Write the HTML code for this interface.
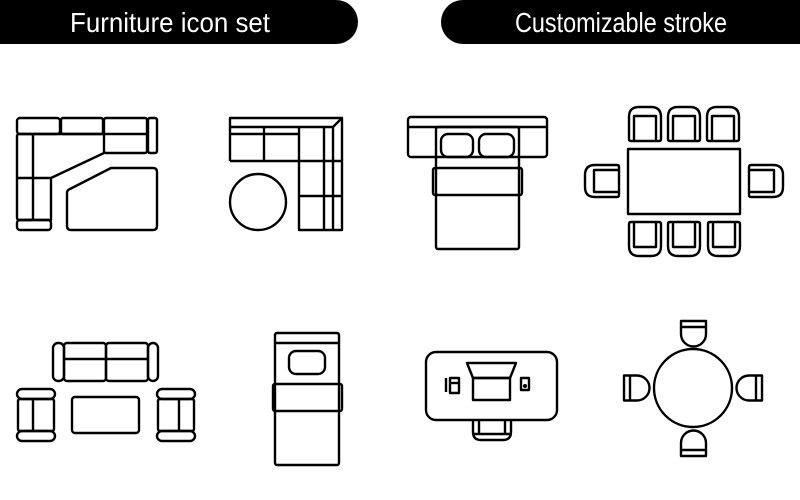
<!DOCTYPE html>
<html><head><style>
html,body{margin:0;padding:0;background:#fff;width:800px;height:500px;overflow:hidden}
</style></head><body>
<svg width="800" height="500" viewBox="0 0 800 500" xmlns="http://www.w3.org/2000/svg">
<defs>
<g id="ch">
<path d="M0,32 L0,10 Q0,0 10,0 L22,0 Q32,0 32,10 L32,32 Q32,34 30,34 L2,34 Q0,34 0,32 Z"/>
<path d="M5,34 V9 H27 V34"/>
</g>
<g id="dc">
<path d="M0,0 H25 V13 A12.5,12.5 0 0 1 0,13 Z M0,6 H25"/>
</g>
</defs>
<path d="M0,0 H336 A22,22 0 0 1 336,44 H0 Z" fill="#000"/>
<path d="M463,0 H800 V44 H463 A22,22 0 0 1 463,0 Z" fill="#000"/>
<text x="170" y="32" fill="#fff" font-family="Liberation Sans Narrow, Liberation Sans, sans-serif" font-size="28" text-anchor="middle" textLength="200" lengthAdjust="spacingAndGlyphs">Furniture icon set</text>
<text x="621" y="32" fill="#fff" font-family="Liberation Sans Narrow, Liberation Sans, sans-serif" font-size="28" text-anchor="middle" textLength="212" lengthAdjust="spacingAndGlyphs">Customizable stroke</text>

<g fill="none" stroke="#000" stroke-width="2.4" stroke-linejoin="round">
<!-- sectional -->
<rect x="17" y="118" width="43" height="16" rx="3"/>
<rect x="61" y="118" width="42" height="16" rx="2"/>
<rect x="104" y="118" width="43" height="35" rx="2"/>
<path d="M104,134 H147"/>
<rect x="148" y="118" width="9" height="35" rx="2"/>
<rect x="17" y="134" width="16" height="86" rx="2"/>
<path d="M17,178 H51 V220 H17 M33,134 H104 M51,178 L104,153"/>
<rect x="17" y="220" width="34" height="10" rx="3"/>
<path d="M70,189 L111,168 H153 Q157,168 157,172 V226 Q157,230 153,230 H71 Q67,230 67,226 V193 Q67,190 70,189 Z"/>
<!-- corner sofa -->
<path d="M230,161 V118 H342 V230 H299 V127 M230,127 H333 L342,118 M333,127 V230 M230,134 H298 M264,127 V161 M230,161 H298 M299,161 H342 M299,196 H342 M324,127 V230"/>
<circle cx="258" cy="202" r="28"/>
<!-- double bed -->
<rect x="408" y="117" width="139" height="40" rx="3"/>
<path d="M408,127 H547"/>
<rect x="436" y="127" width="83" height="122" rx="2"/>
<rect x="441" y="134" width="32" height="23" rx="7"/>
<rect x="479" y="134" width="35" height="23" rx="7"/>
<rect x="433" y="168" width="89" height="27" rx="2"/>
<!-- dining table -->
<rect x="628" y="149" width="112" height="65"/>
<use href="#ch" transform="translate(629,107)"/>
<use href="#ch" transform="translate(668,107)"/>
<use href="#ch" transform="translate(707,107)"/>
<use href="#ch" transform="translate(661,256) rotate(180)"/>
<use href="#ch" transform="translate(700,256) rotate(180)"/>
<use href="#ch" transform="translate(740,256) rotate(180)"/>
<use href="#ch" transform="translate(602,181) rotate(-90) translate(-16,-17)"/>
<use href="#ch" transform="translate(766,181) rotate(90) translate(-16,-17)"/>
<!-- living set -->
<rect x="53" y="343" width="11" height="38" rx="5"/>
<rect x="148" y="343" width="10" height="38" rx="5"/>
<rect x="64" y="343" width="42" height="38" rx="3"/>
<rect x="106" y="343" width="42" height="38" rx="3"/>
<path d="M64,359 H148"/>
<rect x="17" y="389" width="38" height="10" rx="5"/>
<rect x="17" y="431" width="38" height="10" rx="5"/>
<rect x="18" y="399" width="36" height="32" rx="2"/>
<path d="M33,399 V431"/>
<rect x="157" y="389" width="38" height="10" rx="5"/>
<rect x="157" y="431" width="38" height="10" rx="5"/>
<rect x="158" y="399" width="36" height="32" rx="2"/>
<path d="M179,399 V431"/>
<rect x="72" y="397" width="67" height="36" rx="3"/>
<!-- single bed -->
<rect x="275" y="333" width="64" height="132" rx="2"/>
<path d="M275,343 H339"/>
<rect x="289" y="351" width="36" height="23" rx="7"/>
<rect x="273" y="384" width="69" height="27" rx="2"/>
<!-- desk -->
<rect x="426" y="352" width="131" height="68" rx="10"/>
<path d="M467,363 H516 L510,378 H473 Z"/>
<rect x="473" y="378" width="37" height="22"/>
<path d="M446,378 V392"/>
<rect x="450" y="378" width="9" height="15"/>
<path d="M450,383 H459"/>
<rect x="521" y="378" width="8" height="12"/>
<circle cx="525" cy="386" r="0.8" fill="#000"/>
<path d="M473,420 V432 Q473,440 481,440 H503 Q511,440 511,432 V420 M479,420 V433 M505,420 V433 M473,434 H511"/>
<!-- round table -->
<circle cx="693" cy="388" r="39"/>
<use href="#dc" transform="translate(681,321)"/>
<use href="#dc" transform="translate(706,456) rotate(180)"/>
<use href="#dc" transform="translate(637,388) rotate(-90) translate(-12.5,-13)"/>
<use href="#dc" transform="translate(749,388) rotate(90) translate(-12.5,-13)"/>
</g>
</svg>
</body></html>
